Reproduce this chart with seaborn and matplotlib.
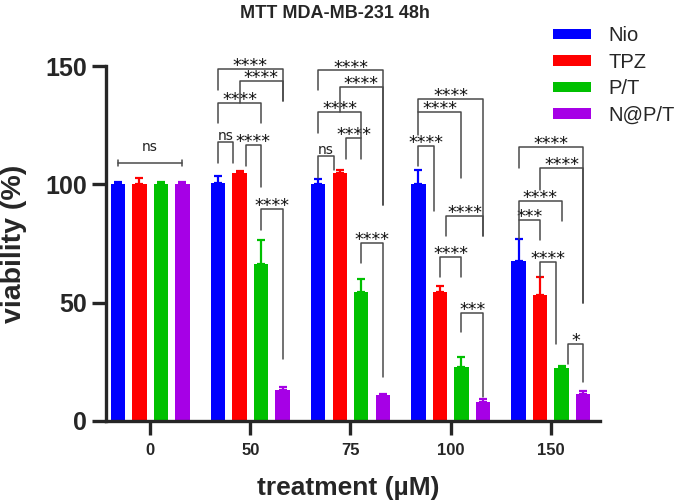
import matplotlib
matplotlib.use("Agg")
import matplotlib.pyplot as plt
import matplotlib.patches as mpatches
import pandas as pd
import seaborn as sns

# values (viability %, mean and upper SD)
conc = ["0", "50", "75", "100", "150"]
treatments = ["Nio", "TPZ", "P/T", "N@P/T"]
nio = [100.0, 100.5, 100.0, 100.2, 67.8]
nio_sd = [1.0, 2.9, 2.4, 6.0, 9.1]
tpz = [100.0, 105.0, 104.8, 54.6, 53.3]
tpz_sd = [2.5, 0.5, 1.2, 2.4, 7.4]
pt = [100.0, 66.3, 54.6, 22.7, 22.3]
pt_sd = [1.0, 10.3, 5.4, 4.5, 0.8]
npt = [100.0, 13.0, 11.0, 8.2, 11.4]
npt_sd = [1.0, 1.2, 0.6, 1.1, 1.1]

colors = ["#0000FF", "#FF0000", "#00C000", "#A600E6"]

# significance brackets:
# (group, bar a, bar b, top, leg a bottom, leg b bottom, label, side a, side b)
# side = where the leg meets the bar: -1 left edge, 0 centre, 1 right edge
brackets = [
    (1, 0, 3, 148.7, 140.0, 135.1, "****", 0, 0),
    (1, 1, 3, 143.6, 134.4, 135.1, "****", 0, 0),
    (1, 0, 2, 134.4, 126.0, 126.0, "****", 0, 0),
    (1, 0, 1, 117.9, 109.0, 109.0, "ns", 0, -1),
    (1, 1, 2, 116.8, 107.6, 98.7, "****", 1, 0),
    (1, 2, 3, 89.6, 80.8, 26.2, "****", 0, 0),
    (2, 0, 3, 148.1, 139.7, 91.4, "****", 0, 0),
    (2, 1, 3, 141.3, 130.6, 91.4, "****", 0, 0),
    (2, 0, 2, 130.6, 121.7, 119.6, "****", 0, 0),
    (2, 1, 2, 119.6, 110.9, 110.9, "****", 1, 0),
    (2, 0, 1, 112.1, 102.7, 106.2, "ns", 0, -1),
    (2, 2, 3, 75.2, 66.6, 18.8, "****", 0, 0),
    (3, 0, 3, 136.1, 130.5, 78.0, "****", 0, 0),
    (3, 0, 2, 130.5, 121.0, 102.7, "****", 0, 0),
    (3, 0, 1, 116.4, 107.6, 88.6, "****", 0, -1),
    (3, 1, 3, 86.8, 78.0, 78.0, "****", 1, 0),
    (3, 1, 2, 69.3, 60.8, 60.8, "****", 0, 0),
    (3, 2, 3, 45.8, 37.5, 10.3, "***", 0, 0),
    (4, 0, 3, 115.8, 106.9, 50.0, "****", 0, 0),
    (4, 1, 3, 106.8, 97.8, 50.0, "****", 0, 0),
    (4, 0, 2, 92.9, 85.1, 84.4, "****", 0, 0),
    (4, 0, 1, 85.1, 76.9, 76.6, "***", 0, 0),
    (4, 1, 2, 67.3, 61.0, 32.6, "****", 0, -1),
    (4, 2, 3, 32.7, 24.0, 16.5, "*", 1, 0),
]
ns_line_y = 109.0

df = pd.DataFrame({
    "treatment (µM)": conc * 4,
    "group": sum([[t] * len(conc) for t in treatments], []),
    "viability": nio + tpz + pt + npt,
    "sd": nio_sd + tpz_sd + pt_sd + npt_sd,
})

sns.set_style("ticks")
plt.rcParams["font.family"] = ["Liberation Sans", "DejaVu Sans"]

fig = plt.figure(figsize=(6.85, 5.04), dpi=100)
ax = fig.add_axes([106 / 685, 83 / 504, 494 / 685, 355 / 504])

sns.barplot(data=df, x="treatment (µM)", y="viability", hue="group",
            hue_order=treatments, order=conc, palette=colors, saturation=1,
            width=0.86, gap=0.33, errorbar=None, ax=ax, legend=False,
            edgecolor="none")

# bar centres / half widths per hue, taken from the drawn bars
bar_containers = list(ax.containers)
centres, halfw = [], []
for k, cont in enumerate(bar_containers):
    xs = [b.get_x() + b.get_width() / 2 for b in cont]
    ys = [b.get_height() for b in cont]
    centres.append(xs)
    halfw.append([b.get_width() / 2 for b in cont])
    sd = df[df["group"] == treatments[k]]["sd"].tolist()
    ax.errorbar(xs, ys, yerr=[[0] * len(sd), sd], fmt="none",
                ecolor=colors[k], elinewidth=1.6, capsize=3, capthick=1.6,
                zorder=3)

line_kw = dict(color="#4a4a4a", lw=1.1, clip_on=False, zorder=4)


def put_label(x, y, lab, dy):
    if lab == "ns":
        ax.annotate(lab, (x, y), xytext=(0, dy), textcoords="offset points",
                    ha="center", va="baseline", fontsize=10, color="#222222",
                    family="DejaVu Sans", annotation_clip=False)
    else:
        ax.annotate(lab, (x, y), xytext=(0, dy - 3.0), textcoords="offset points",
                    ha="center", va="baseline", fontsize=12.5, color="#111111",
                    family="DejaVu Sans", annotation_clip=False)


for g, a, b, top, ya, yb, lab, sa, sb in brackets:
    xa = centres[a][g] + sa * 0.85 * halfw[a][g]
    xb = centres[b][g] + sb * 0.85 * halfw[b][g]
    ax.plot([xa, xa, xb, xb], [ya, top, top, yb], **line_kw)
    put_label((xa + xb) / 2, top, lab, 1.5)

# group 0: ns across all four bars
x0, x3 = centres[0][0], centres[3][0]
ax.plot([x0, x3], [ns_line_y, ns_line_y], **line_kw)
for xx in (x0, x3):
    ax.plot([xx, xx], [ns_line_y - 1.4, ns_line_y + 1.4], **line_kw)
put_label((x0 + x3) / 2, ns_line_y, "ns", 8.5)

ax.set_xlim(-0.44, 4.49)
ax.set_ylim(0, 150)
ax.set_yticks([0, 50, 100, 150])
sns.despine(ax=ax)
for sp in ("left", "bottom"):
    ax.spines[sp].set_linewidth(2.4)
ax.tick_params(axis="both", width=2.4, length=10, direction="out")
ax.tick_params(axis="x", pad=6)
for t in ax.get_yticklabels():
    t.set_fontsize(18)
    t.set_fontweight("bold")
for t in ax.get_xticklabels():
    t.set_fontsize(12)
    t.set_fontweight("bold")

ax.set_xlabel("treatment (µM)", fontsize=19, fontweight="bold")
ax.set_ylabel("viability (%)", fontsize=20.5, fontweight="bold")
ax.xaxis.set_label_coords(0.49, -0.155)
ax.yaxis.set_label_coords(-0.16, 0.5)

fig.text(0.489, 1 - 13 / 504, "MTT MDA-MB-231 48h", ha="center", va="center",
         fontsize=13, fontweight="bold")

handles = [mpatches.Patch(facecolor=c, edgecolor="none", label=t)
           for c, t in zip(colors, treatments)]
fig.legend(handles=handles, loc="upper left", bbox_to_anchor=(0.793, 0.968),
           frameon=False, fontsize=14.5, handlelength=1.85, handleheight=0.45,
           handletextpad=0.9, labelspacing=0.37, borderpad=0)

fig.savefig("out.png", dpi=100)
